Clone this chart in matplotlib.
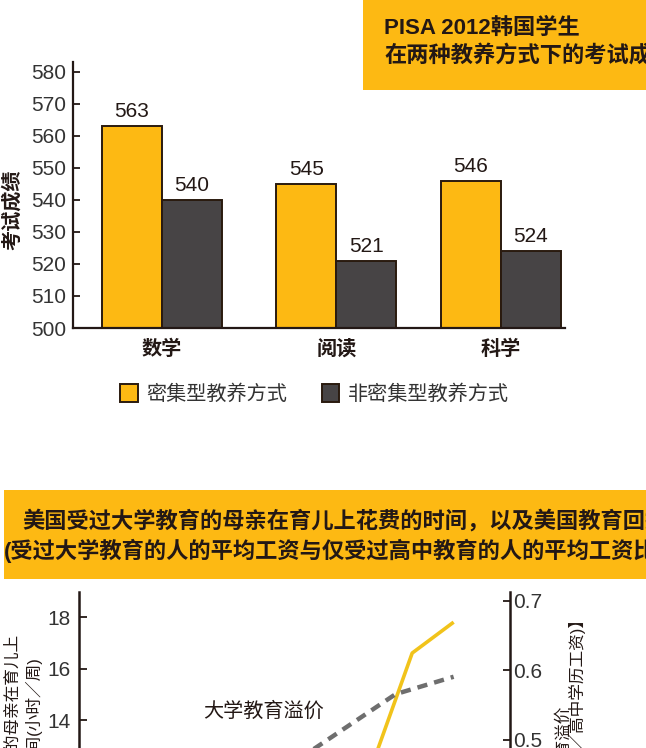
import matplotlib
matplotlib.use("Agg")
import matplotlib.pyplot as plt
from matplotlib.patches import Rectangle, Patch
from matplotlib.ticker import FormatStrFormatter
import numpy as np

plt.rcParams['font.family'] = ['Liberation Sans', 'Noto Sans CJK SC', 'DejaVu Sans']

# --- top chart: PISA 2012 scores
subjects = ["数学", "阅读", "科学"]
intensive = [563, 545, 546]
non_intensive = [540, 521, 524]
series_names = ["密集型教养方式", "非密集型教养方式"]
score_ticks = [500, 510, 520, 530, 540, 550, 560, 570, 580]

# --- bottom chart (only the upper part is visible)
mom_years = [1998, 2003, 2008]
mom_hours = [12.1, 16.6, 17.8]
premium_years = [1985, 2001, 2008]
premium_values = [0.438, 0.566, 0.591]
hour_ticks = [14, 16, 18]
premium_ticks = [0.5, 0.6, 0.7]

YELLOW = "#FDB913"
LINE_YELLOW = "#F1C31B"
DARK = "#474445"
EDGE = "#2a1a0e"
INK = "#231815"
GRAY = "#6e6e6e"

W, H = 646, 748
def fx(px):
    return px / W
def fy(py):
    return 1 - py / H

fig = plt.figure(figsize=(W / 100, H / 100), dpi=100)

# title boxes
fig.add_artist(Rectangle((fx(363), fy(90)), 1, 95 / H, transform=fig.transFigure,
                         fc=YELLOW, ec="none", zorder=0))
fig.text(fx(384), fy(28), "PISA 2012韩国学生", ha="left", va="center",
         fontsize=16, fontweight="bold", color=INK)
fig.text(fx(384), fy(56), "在两种教养方式下的考试成绩", ha="left", va="center",
         fontsize=16, fontweight="bold", color=INK)

fig.add_artist(Rectangle((fx(4), fy(579)), 1, 89 / H, transform=fig.transFigure,
                         fc=YELLOW, ec="none", zorder=0))
fig.text(fx(22), fy(521), "美国受过大学教育的母亲在育儿上花费的时间，以及美国教育回报率",
         ha="left", va="center", fontsize=16, fontweight="bold", color=INK)
fig.text(fx(4), fy(551), "(受过大学教育的人的平均工资与仅受过高中教育的人的平均工资比)",
         ha="left", va="center", fontsize=16, fontweight="bold", color=INK)

# ---------------- top bar chart
ax1 = fig.add_axes([fx(73), fy(328), 492 / W, 266 / H])
ax1.patch.set_visible(False)
pos = np.array([0, 1.03, 2.0])
w = 0.354
b1 = ax1.bar(pos - w / 2, intensive, w, color=YELLOW, edgecolor=EDGE, linewidth=1.4)
b2 = ax1.bar(pos + w / 2, non_intensive, w, color=DARK, edgecolor=EDGE, linewidth=1.4)
for bars, vals in ((b1, intensive), (b2, non_intensive)):
    for r, v in zip(bars, vals):
        ax1.annotate(str(v), (r.get_x() + r.get_width() / 2, v), xytext=(0, 6.2),
                     textcoords="offset points", ha="center", va="baseline",
                     fontsize=15, color=INK)
ax1.set_ylim(500, 583)
ax1.set_xlim(-0.5255, 2.38)
ax1.set_yticks(score_ticks)
ax1.set_xticks(pos)
ax1.set_xticklabels(subjects, fontsize=14.5, fontweight="bold", color=INK)
ax1.tick_params(axis="x", length=0, pad=8)
ax1.tick_params(axis="y", direction="in", length=5, width=1.3, labelsize=15,
                pad=5, labelcolor="#333333", color=INK)
for s in ("top", "right"):
    ax1.spines[s].set_visible(False)
for s in ("left", "bottom"):
    ax1.spines[s].set_linewidth(1.6)
    ax1.spines[s].set_color(INK)
ax1.set_ylabel("考试成绩", fontsize=14.5, fontweight="bold", color=INK, va="center")
ax1.yaxis.set_label_coords((12 - 73) / 492, (328 - 210) / 266)

handles = [Patch(fc=YELLOW, ec=EDGE, lw=1.4, label=series_names[0]),
           Patch(fc=DARK, ec=EDGE, lw=1.4, label=series_names[1])]
fig.legend(handles=handles, loc="center left", bbox_to_anchor=(fx(120), fy(394)),
           ncol=2, frameon=False, fontsize=14.5, handlelength=0.87, handleheight=1.03,
           handletextpad=0.45, columnspacing=1.7, borderpad=0, borderaxespad=0,
           labelcolor="#333333")

# ---------------- bottom line chart
ax2 = fig.add_axes([fx(79), fy(948), 431 / W, 356 / H])
ax3 = ax2.twinx()
ax2.plot(mom_years, mom_hours, color=LINE_YELLOW, lw=2.6, solid_capstyle="butt")
ax3.plot(premium_years, premium_values, color=GRAY, lw=3.2, dashes=(2.3, 1.6))
ax2.set_xlim(1962.8, 2014.8)
ax2.set_ylim(5.146, 18.971)
ax3.set_ylim(0.2007, 0.71295)
ax2.set_yticks(hour_ticks)
ax3.set_yticks(premium_ticks)
ax3.yaxis.set_major_formatter(FormatStrFormatter("%.1f"))
ax2.tick_params(axis="x", length=0, labelbottom=False)
ax2.tick_params(axis="y", direction="in", length=6, width=1.3, labelsize=15, pad=6,
                labelcolor="#333333", color=INK)
ax3.tick_params(axis="y", direction="in", length=5, width=1.3, labelsize=15, pad=2,
                labelcolor="#333333", color=INK)
for a in (ax2, ax3):
    a.spines["top"].set_visible(False)
    a.spines["bottom"].set_visible(False)
ax2.spines["right"].set_visible(False)
ax3.spines["left"].set_visible(False)
ax2.spines["left"].set_linewidth(1.8)
ax2.spines["left"].set_color(INK)
ax3.spines["right"].set_linewidth(1.8)
ax3.spines["right"].set_color(INK)

ax2.text(1985.1, 14.35, "大学教育溢价", ha="center", va="center", fontsize=14.5, color=INK)

fig.text(fx(12), fy(634), "受过大学教育的母亲在育儿上", rotation=90, ha="center", va="top",
         fontsize=12, color=INK)
fig.text(fx(34), fy(657), "花费的时间(小时／周)", rotation=90, ha="center", va="top",
         fontsize=12, color=INK)
fig.text(fx(553), fy(695), "【大学教育溢价", rotation=90, ha="center", va="top",
         fontsize=12, color=INK)
fig.text(fx(576), fy(610), "(大学学历工资／高中学历工资)】", rotation=90, ha="center", va="top",
         fontsize=12, color=INK)

fig.savefig("out.png", dpi=100)
